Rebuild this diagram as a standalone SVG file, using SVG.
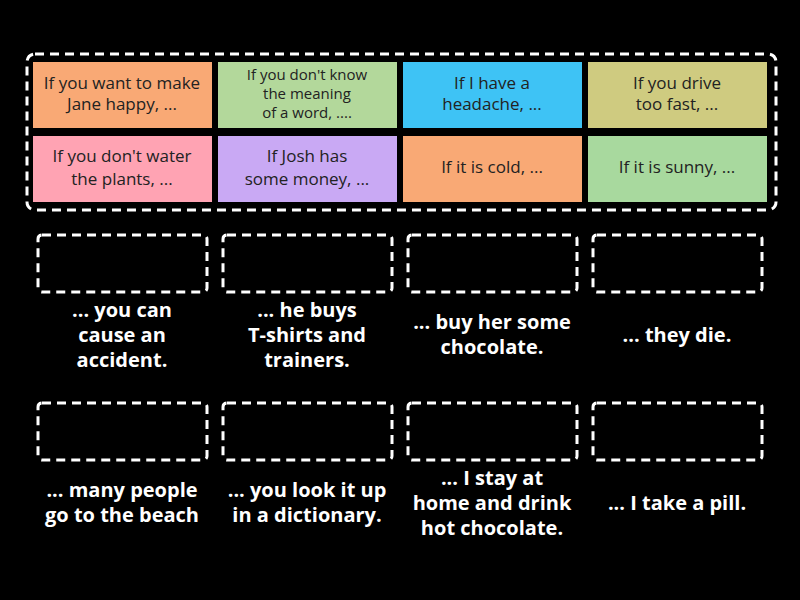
<svg xmlns="http://www.w3.org/2000/svg" width="800" height="600" viewBox="0 0 800 600">
<style>
.t{font-family:"Open Sans","Noto Sans",sans-serif;font-size:17px;fill:#222;text-anchor:middle}
.s{font-size:15px}
.a{font-family:"Open Sans","Noto Sans",sans-serif;font-size:20px;font-weight:bold;fill:#fff;text-anchor:middle}
.d{fill:none;stroke:#fff;stroke-width:3;stroke-dasharray:9,6}
</style>
<rect width="800" height="600" fill="#000"/>
<rect class="d" x="27" y="54" width="749" height="156" rx="8"/>
<g id="tiles">
<rect x="33" y="62" width="179" height="66" fill="#F9A975"/>
<rect x="218" y="62" width="179" height="66" fill="#B3D89B"/>
<rect x="403" y="62" width="179" height="66" fill="#3EC3F5"/>
<rect x="588" y="62" width="179" height="66" fill="#CFCB80"/>
<rect x="33" y="136" width="179" height="66" fill="#FFA3B3"/>
<rect x="218" y="136" width="179" height="66" fill="#C9A9F4"/>
<rect x="403" y="136" width="179" height="66" fill="#F9A975"/>
<rect x="588" y="136" width="179" height="66" fill="#A8D99E"/>
<text class="t" x="122" y="89">If you want to make<tspan x="122" y="110">Jane happy, ...</tspan></text>
<text class="t s" x="307" y="80">If you don't know<tspan x="307" y="99">the meaning</tspan><tspan x="307" y="118">of a word, ....</tspan></text>
<text class="t" x="492" y="89">If I have a<tspan x="492" y="110">headache, ...</tspan></text>
<text class="t" x="677" y="89">If you drive<tspan x="677" y="110">too fast, ...</tspan></text>
<text class="t" x="122" y="162">If you don't water<tspan x="122" y="185">the plants, ...</tspan></text>
<text class="t" x="307" y="162">If Josh has<tspan x="307" y="185">some money, ...</tspan></text>
<text class="t" x="492" y="173">If it is cold, ...</text>
<text class="t" x="677" y="173">If it is sunny, ...</text>
</g>
<g id="slots">
<rect class="d" x="38" y="235" width="169" height="57" rx="4"/>
<rect class="d" x="223" y="235" width="169" height="57" rx="4"/>
<rect class="d" x="408" y="235" width="169" height="57" rx="4"/>
<rect class="d" x="593" y="235" width="169" height="57" rx="4"/>
<rect class="d" x="38" y="403" width="169" height="57" rx="4"/>
<rect class="d" x="223" y="403" width="169" height="57" rx="4"/>
<rect class="d" x="408" y="403" width="169" height="57" rx="4"/>
<rect class="d" x="593" y="403" width="169" height="57" rx="4"/>
</g>
<g id="answers">
<text class="a" x="122" y="317">... you can<tspan x="122" y="342">cause an</tspan><tspan x="122" y="367">accident.</tspan></text>
<text class="a" x="307" y="317">... he buys<tspan x="307" y="342">T-shirts and</tspan><tspan x="307" y="367">trainers.</tspan></text>
<text class="a" x="492" y="329">... buy her some<tspan x="492" y="354">chocolate.</tspan></text>
<text class="a" x="677" y="342">... they die.</text>
<text class="a" x="122" y="497">... many people<tspan x="122" y="522">go to the beach</tspan></text>
<text class="a" x="307" y="497">... you look it up<tspan x="307" y="522">in a dictionary.</tspan></text>
<text class="a" x="492" y="485">... I stay at<tspan x="492" y="510">home and drink</tspan><tspan x="492" y="535">hot chocolate.</tspan></text>
<text class="a" x="677" y="510">... I take a pill.</text>
</g>
</svg>
